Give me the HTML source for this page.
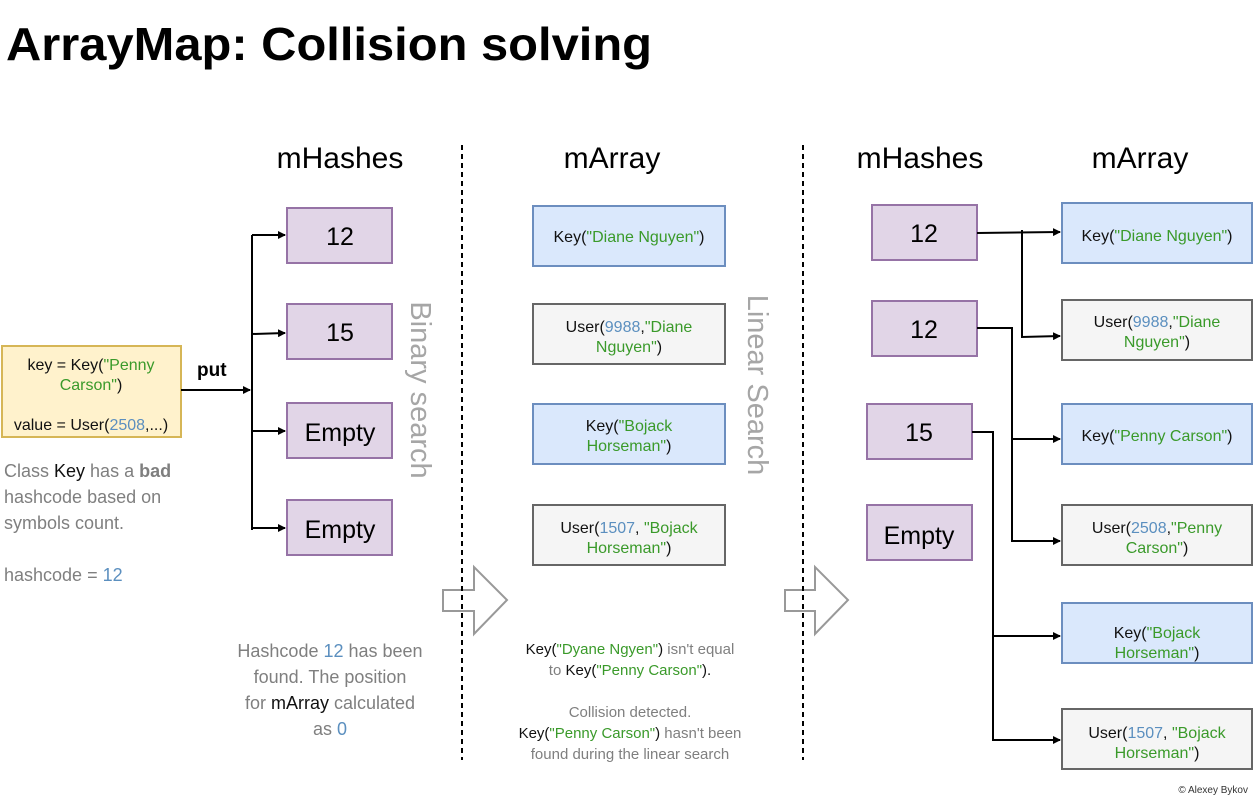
<!DOCTYPE html>
<html><head><meta charset="utf-8"><style>
html,body{margin:0;padding:0;background:#fff;}
svg{display:block;font-family:"Liberation Sans",sans-serif;}
.g{fill:#3a9a2a}.b{fill:#5b8fbf}.k{fill:#111}.gr{fill:#7f7f7f}
</style></head><body>
<svg width="1253" height="806" viewBox="0 0 1253 806" xmlns="http://www.w3.org/2000/svg">
<defs><marker id="a" markerWidth="8" markerHeight="8" refX="7" refY="4" orient="auto" markerUnits="userSpaceOnUse"><path d="M0,0 L8,4 L0,8 z" fill="#000"/></marker></defs>
<text x="6" y="60" font-size="46" font-weight="bold" fill="#000" textLength="646" lengthAdjust="spacingAndGlyphs">ArrayMap: Collision solving</text>

<g font-size="30" text-anchor="middle" fill="#000">
<text x="340" y="168">mHashes</text><text x="612" y="168">mArray</text>
<text x="920" y="168">mHashes</text><text x="1140" y="168">mArray</text>
</g>

<g stroke="#000" stroke-width="2" stroke-dasharray="5,4"><line x1="462" y1="145" x2="462" y2="760"/><line x1="803" y1="145" x2="803" y2="760"/></g>

<g fill="#e1d5e7" stroke="#9673a6" stroke-width="2">
<rect x="287" y="208" width="105" height="55"/><rect x="287" y="304" width="105" height="55"/>
<rect x="287" y="403" width="105" height="55"/><rect x="287" y="500" width="105" height="55"/>
<rect x="872" y="205" width="105" height="55"/><rect x="872" y="301" width="105" height="55"/>
<rect x="867" y="404" width="105" height="55"/><rect x="867" y="505" width="105" height="55"/>
</g>
<g font-size="25" text-anchor="middle" fill="#000">
<text x="340" y="245">12</text><text x="340" y="341">15</text><text x="340" y="441">Empty</text><text x="340" y="538">Empty</text>
<text x="924" y="242">12</text><text x="924" y="338">12</text><text x="919" y="441">15</text><text x="919" y="544">Empty</text>
</g>

<rect x="2" y="346" width="179" height="91" fill="#fff2cc" stroke="#d6b656" stroke-width="2"/>
<g font-size="16" text-anchor="middle">
<text x="91" y="370" class="k">key = Key(<tspan class="g">"Penny</tspan></text>
<text x="91" y="390"><tspan class="g">Carson"</tspan><tspan class="k">)</tspan></text>
<text x="91" y="430" class="k">value = User(<tspan class="b">2508</tspan>,...)</text>
</g>
<text x="197" y="376" font-size="19" font-weight="bold">put</text>
<g stroke="#000" stroke-width="2" fill="none">
<line x1="181" y1="390" x2="250" y2="390" marker-end="url(#a)"/>
<polyline points="252,235 252,530"/>
<line x1="252" y1="235" x2="285" y2="235" marker-end="url(#a)"/>
<line x1="252" y1="334" x2="285" y2="333" marker-end="url(#a)"/>
<line x1="252" y1="431" x2="285" y2="431" marker-end="url(#a)"/>
<line x1="252" y1="528" x2="285" y2="528" marker-end="url(#a)"/>
</g>
<g font-size="18" class="gr">
<text x="4" y="477">Class <tspan class="k">Key</tspan> has a <tspan font-weight="bold">bad</tspan></text>
<text x="4" y="503">hashcode based on</text>
<text x="4" y="529">symbols count.</text>
<text x="4" y="581">hashcode = <tspan class="b">12</tspan></text>
</g>
<g font-size="18" class="gr" text-anchor="middle">
<text x="330" y="657">Hashcode <tspan class="b">12</tspan> has been</text>
<text x="330" y="683">found. The position</text>
<text x="330" y="709">for <tspan class="k">mArray</tspan> calculated</text>
<text x="330" y="735">as <tspan class="b">0</tspan></text>
</g>
<text transform="translate(411,390) rotate(90)" font-size="29" fill="#a6a6a6" text-anchor="middle">Binary search</text>
<text transform="translate(748,385) rotate(90)" font-size="29" fill="#a6a6a6" text-anchor="middle">Linear Search</text>

<g stroke-width="2">
<rect x="533" y="206" width="192" height="60" fill="#dae8fc" stroke="#6c8ebf"/>
<rect x="533" y="304" width="192" height="60" fill="#f5f5f5" stroke="#666"/>
<rect x="533" y="404" width="192" height="60" fill="#dae8fc" stroke="#6c8ebf"/>
<rect x="533" y="505" width="192" height="60" fill="#f5f5f5" stroke="#666"/>
<rect x="1062" y="203" width="190" height="60" fill="#dae8fc" stroke="#6c8ebf"/>
<rect x="1062" y="300" width="190" height="60" fill="#f5f5f5" stroke="#666"/>
<rect x="1062" y="404" width="190" height="60" fill="#dae8fc" stroke="#6c8ebf"/>
<rect x="1062" y="505" width="190" height="60" fill="#f5f5f5" stroke="#666"/>
<rect x="1062" y="603" width="190" height="60" fill="#dae8fc" stroke="#6c8ebf"/>
<rect x="1062" y="709" width="190" height="60" fill="#f5f5f5" stroke="#666"/>
</g>
<g font-size="16" text-anchor="middle" class="k">
<text x="629" y="242">Key(<tspan class="g">"Diane Nguyen"</tspan>)</text>
<text x="629" y="332">User(<tspan class="b">9988</tspan>,<tspan class="g">"Diane</tspan></text>
<text x="629" y="352"><tspan class="g">Nguyen"</tspan>)</text>
<text x="629" y="431">Key(<tspan class="g">"Bojack</tspan></text>
<text x="629" y="451"><tspan class="g">Horseman"</tspan>)</text>
<text x="629" y="533">User(<tspan class="b">1507</tspan>, <tspan class="g">"Bojack</tspan></text>
<text x="629" y="553"><tspan class="g">Horseman"</tspan>)</text>
<text x="1157" y="241">Key(<tspan class="g">"Diane Nguyen"</tspan>)</text>
<text x="1157" y="327">User(<tspan class="b">9988</tspan>,<tspan class="g">"Diane</tspan></text>
<text x="1157" y="347"><tspan class="g">Nguyen"</tspan>)</text>
<text x="1157" y="441">Key(<tspan class="g">"Penny Carson"</tspan>)</text>
<text x="1157" y="533">User(<tspan class="b">2508</tspan>,<tspan class="g">"Penny</tspan></text>
<text x="1157" y="553"><tspan class="g">Carson"</tspan>)</text>
<text x="1157" y="638">Key(<tspan class="g">"Bojack</tspan></text>
<text x="1157" y="658"><tspan class="g">Horseman"</tspan>)</text>
<text x="1157" y="738">User(<tspan class="b">1507</tspan>, <tspan class="g">"Bojack</tspan></text>
<text x="1157" y="758"><tspan class="g">Horseman"</tspan>)</text>
</g>
<g font-size="15" text-anchor="middle">
<text x="630" y="654" class="k">Key(<tspan class="g">"Dyane Ngyen"</tspan>)   <tspan class="gr">isn't equal</tspan></text>
<text x="630" y="675"><tspan class="gr">to </tspan><tspan class="k">Key(</tspan><tspan class="g">"Penny Carson"</tspan><tspan class="k">).</tspan></text>
<text x="630" y="717" class="gr">Collision detected.</text>
<text x="630" y="738" class="k">Key(<tspan class="g">"Penny Carson"</tspan>) <tspan class="gr">hasn't been</tspan></text>
<text x="630" y="759" class="gr">found during the linear search</text>
</g>

<g fill="#fff" stroke="#999" stroke-width="2">
<path d="M443,590 L474,590 L474,567 L507,600 L474,634 L474,611 L443,611 z"/>
<path d="M785,590 L815,590 L815,567 L848,600 L815,634 L815,611 L785,611 z"/>
</g>
<g stroke="#000" stroke-width="2" fill="none">
<line x1="462" y1="586" x2="462" y2="616" stroke-dasharray="5,4"/>
<line x1="803" y1="586" x2="803" y2="616" stroke-dasharray="5,4"/>
</g>

<g stroke="#000" stroke-width="2" fill="none">
<line x1="977" y1="233" x2="1060" y2="232" marker-end="url(#a)"/>
<polyline points="1022,230 1022,337 1060,336" marker-end="url(#a)"/>
<polyline points="977,328 1012,328 1012,541 1060,541" marker-end="url(#a)"/>
<line x1="1012" y1="439" x2="1060" y2="439" marker-end="url(#a)"/>
<polyline points="972,432 993,432 993,740 1060,740" marker-end="url(#a)"/>
<line x1="993" y1="636" x2="1060" y2="636" marker-end="url(#a)"/>
</g>
<text x="1248" y="793" font-size="10" fill="#333" text-anchor="end">© Alexey Bykov</text>
</svg>
</body></html>
